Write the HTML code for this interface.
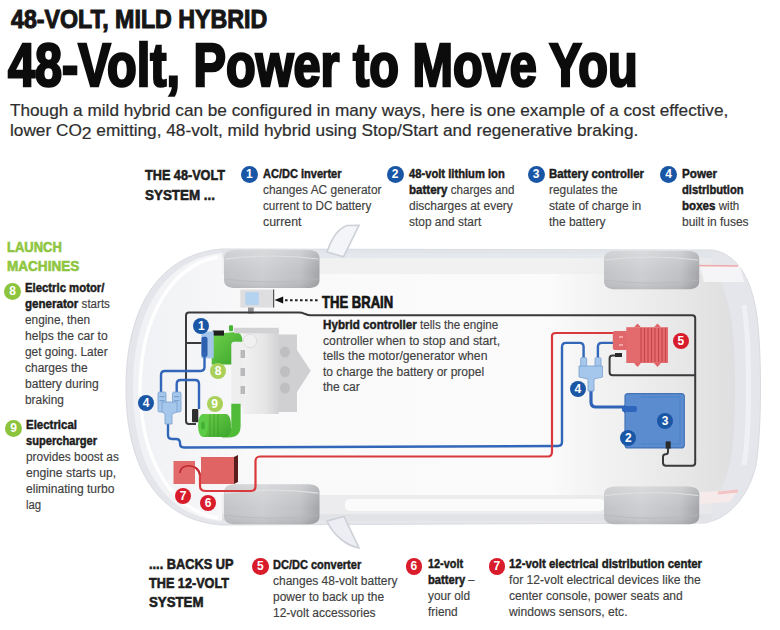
<!DOCTYPE html>
<html><head><meta charset="utf-8">
<style>
html,body{margin:0;padding:0;background:#fff;}
body{width:780px;height:630px;position:relative;overflow:hidden;font-family:"Liberation Sans",sans-serif;}
.a{position:absolute;white-space:nowrap;line-height:1;transform-origin:0 0;}
.a b{color:#1c1c1c;}
.bd{position:absolute;border-radius:50%;color:#fff;font-weight:bold;font-size:12px;text-align:center;}
svg{position:absolute;left:0;top:0;}
</style></head>
<body>
<svg width="780" height="630">
<defs>
<linearGradient id="whl" x1="0" y1="0" x2="1" y2="0">
<stop offset="0" stop-color="#c2c3c6"/><stop offset="0.4" stop-color="#cdced1"/><stop offset="0.8" stop-color="#c0c1c4"/><stop offset="1" stop-color="#a2a4a7"/>
</linearGradient>
<linearGradient id="whlv" x1="0" y1="0" x2="0" y2="1">
<stop offset="0" stop-color="#ffffff" stop-opacity="0.25"/><stop offset="0.6" stop-color="#ffffff" stop-opacity="0"/><stop offset="1" stop-color="#000" stop-opacity="0.08"/>
</linearGradient>
<linearGradient id="bodyv" x1="0" y1="0" x2="0" y2="1">
<stop offset="0" stop-color="#e2e3e6"/><stop offset="0.07" stop-color="#eeeff1"/><stop offset="0.2" stop-color="#f6f6f7"/><stop offset="0.75" stop-color="#f4f4f5"/><stop offset="0.88" stop-color="#e9e9eb"/><stop offset="1" stop-color="#e3e4e7"/>
</linearGradient>
<linearGradient id="bodyh" x1="0" y1="0" x2="1" y2="0">
<stop offset="0" stop-color="#f0f1f4"/><stop offset="0.2" stop-color="#f9f9fa"/><stop offset="0.7" stop-color="#fbfbfb"/><stop offset="0.92" stop-color="#ececed"/><stop offset="1" stop-color="#dedee0"/>
</linearGradient>
<linearGradient id="cabin" x1="0" y1="0" x2="1" y2="0">
<stop offset="0" stop-color="#f3f3f4" stop-opacity="0"/><stop offset="0.5" stop-color="#eeeeef"/><stop offset="1" stop-color="#e0e0e1"/>
</linearGradient>
<linearGradient id="eng" x1="0" y1="0" x2="1" y2="0">
<stop offset="0" stop-color="#f1f1f2"/><stop offset="0.6" stop-color="#e6e6e7"/><stop offset="1" stop-color="#d2d2d4"/>
</linearGradient>
<linearGradient id="grn" x1="0" y1="0" x2="1" y2="1">
<stop offset="0" stop-color="#6fd04a"/><stop offset="1" stop-color="#3aa42c"/>
</linearGradient>
</defs>
<!-- car body -->
<path d="M222,249 L712,250 C735,253 750,275 756,310 C762,345 762,430 756,465 C750,492 732,518 705,523 L222,525 C160,521 126,470 126,388 C126,306 160,254 222,249 Z" fill="#e4e6eb" stroke="#d9dbe0" stroke-width="1"/>
<path d="M222,253 L700,254 C712,262 727,285 732,325 C736,360 736,416 732,450 C727,488 712,508 700,516 L222,521 C166,517 133,468 133,388 C133,308 166,259 222,253 Z" fill="url(#bodyh)"/>
<path d="M222,250 L712,251 L712,258 L222,258 Z" fill="#e1e4ea" opacity="0.85"/>
<path d="M218,257 C170,266 141,318 140,388 C141,458 170,510 218,518" fill="none" stroke="#ffffff" stroke-width="3.5" opacity="0.9"/>
<path d="M744,305 C750,345 750,430 744,465" fill="none" stroke="#eef0f4" stroke-width="5"/>
<rect x="540" y="272" width="185" height="226" rx="30" fill="url(#cabin)" opacity="0.9"/>
<rect x="222" y="258" width="490" height="16" fill="#ebebec" opacity="0.6"/>
<rect x="222" y="495" width="490" height="27" fill="#e9e9eb" opacity="0.8"/>
<rect x="345" y="499" width="260" height="12" rx="5" fill="#fbfbfb"/>
<rect x="222" y="514" width="490" height="7" fill="#e2e3e6"/>
<!-- tail light hints -->
<path d="M700,266 L740,266 L744,282 L704,282 Z" fill="#f6f6f8" opacity="0.9"/>
<path d="M690,265.5 L738,266" stroke="#f0a8a8" stroke-width="1.5"/>
<path d="M700,492 L738,490 L730,502 L700,504 Z" fill="#f8eaea" opacity="0.9"/>
<path d="M718,493 L738,491" stroke="#f3c4c4" stroke-width="3"/>
<!-- mirrors -->
<path d="M327,252 C331,240 337,229 347,225.5 L359,225.3 L343.6,256.7 Z" fill="#f4f5f9" stroke="#cdd0d7" stroke-width="1.6"/>
<path d="M327,521 L344,516.5 L359,548 C348,546 334,537 327,521 Z" fill="#eceef3" stroke="#cdd0d7" stroke-width="1.6"/>
<!-- wheels -->
<path d="M224,258 Q224,250 236,250 L307.5,250 Q319.5,250 319.5,258 L319.5,280 Q319.5,288 307.5,288 L236,288 Q224,288 224,280 Z" fill="url(#whl)"/>
<path d="M224,258 Q224,250 236,250 L307.5,250 Q319.5,250 319.5,258 L319.5,280 Q319.5,288 307.5,288 L236,288 Q224,288 224,280 Z" fill="url(#whlv)"/>
<path d="M225,259 Q271.75,253 318.5,259" fill="none" stroke="#dedfe1" stroke-width="1.2"/>
<path d="M225,279 Q271.75,285 318.5,279" fill="none" stroke="#b4b6b9" stroke-width="1" opacity="0.7"/>
<path d="M224,492.2 Q224,484.2 236,484.2 L307.5,484.2 Q319.5,484.2 319.5,492.2 L319.5,516.2 Q319.5,524.2 307.5,524.2 L236,524.2 Q224,524.2 224,516.2 Z" fill="url(#whl)"/>
<path d="M224,492.2 Q224,484.2 236,484.2 L307.5,484.2 Q319.5,484.2 319.5,492.2 L319.5,516.2 Q319.5,524.2 307.5,524.2 L236,524.2 Q224,524.2 224,516.2 Z" fill="url(#whlv)"/>
<path d="M225,493.2 Q271.75,487.2 318.5,493.2" fill="none" stroke="#dedfe1" stroke-width="1.2"/>
<path d="M225,515.2 Q271.75,521.2 318.5,515.2" fill="none" stroke="#b4b6b9" stroke-width="1" opacity="0.7"/>
<path d="M604,259 Q604,251 616,251 L687.2,251 Q699.2,251 699.2,259 L699.2,281.2 Q699.2,289.2 687.2,289.2 L616,289.2 Q604,289.2 604,281.2 Z" fill="url(#whl)"/>
<path d="M604,259 Q604,251 616,251 L687.2,251 Q699.2,251 699.2,259 L699.2,281.2 Q699.2,289.2 687.2,289.2 L616,289.2 Q604,289.2 604,281.2 Z" fill="url(#whlv)"/>
<path d="M605,260 Q651.6,254 698.2,260" fill="none" stroke="#dedfe1" stroke-width="1.2"/>
<path d="M605,280.2 Q651.6,286.2 698.2,280.2" fill="none" stroke="#b4b6b9" stroke-width="1" opacity="0.7"/>
<path d="M604,494.5 Q604,486.5 616,486.5 L687.2,486.5 Q699.2,486.5 699.2,494.5 L699.2,516.2 Q699.2,524.2 687.2,524.2 L616,524.2 Q604,524.2 604,516.2 Z" fill="url(#whl)"/>
<path d="M604,494.5 Q604,486.5 616,486.5 L687.2,486.5 Q699.2,486.5 699.2,494.5 L699.2,516.2 Q699.2,524.2 687.2,524.2 L616,524.2 Q604,524.2 604,516.2 Z" fill="url(#whlv)"/>
<path d="M605,495.5 Q651.6,489.5 698.2,495.5" fill="none" stroke="#dedfe1" stroke-width="1.2"/>
<path d="M605,515.2 Q651.6,521.2 698.2,515.2" fill="none" stroke="#b4b6b9" stroke-width="1" opacity="0.7"/>
<!-- brain -->
<rect x="240.3" y="289.6" width="33.9" height="18" fill="#dedee0"/>
<rect x="245.4" y="292.2" width="13.4" height="12.8" fill="#b3d3f1"/>
<line x1="273.6" y1="289.6" x2="273.6" y2="307.6" stroke="#555" stroke-width="1.2"/>
<rect x="248" y="307.6" width="5.7" height="6" fill="#8f9092"/>
<path d="M274.5,300 L283.2,296.5 L283.2,303.5 Z" fill="#111"/>
<line x1="285" y1="300.3" x2="320" y2="300.3" stroke="#222" stroke-width="2" stroke-dasharray="2.6,2.4"/>
<!-- dark wires -->
<g fill="none" stroke="#3a3a3c" stroke-width="2" stroke-linejoin="round">
<path d="M196,424 L189.0,424.0 Q186,424 186.0,421.0 L186.0,315.5 Q186,312.5 189.0,312.5 L299.0,312.5 Q302,312.5 304.7,313.8 L305.3,314.0 Q308,315.3 311.0,315.3 L692.2,315.3 Q695.2,315.3 695.2,318.3 L695.2,462.7 Q695.2,465.7 692.2,465.7 L666.0,465.7 Q663,465.7 663.0,462.7 L663.0,456.8 Q663,454.3 665.5,454.3 L665.5,454.3 Q668,454.3 668.0,451.8 L668,448"/>
<path d="M186,343 L204,343"/>
<path d="M695.2,375.3 L612.6,375.3 Q609.6,375.3 609.6,372.3 L609.6,358.4 Q609.6,355.4 612.6,355.4 L616,355.4"/>
</g>
<!-- green motor 8 -->
<path d="M211.7,334 L236,332 C241,333 242.6,337 242.6,342 L242.6,358 C242.6,362 240,364.5 236,364.5 L211.7,364.5 Z" fill="url(#grn)"/>
<rect x="212.7" y="330.5" width="11.3" height="5.1" fill="#1f1f1f"/>
<rect x="229" y="325.3" width="4" height="6" rx="1" fill="#46b534"/>
<!-- engine -->
<path d="M278,334.5 L297,334.5 L297,350 L310.7,370.7 L297,392 L297,412 L278,412 Z" fill="#d0d0d2"/>
<ellipse cx="285" cy="352" rx="5" ry="5.5" fill="#bfbfc1"/><ellipse cx="285" cy="371.5" rx="5" ry="5.5" fill="#bfbfc1"/><ellipse cx="285" cy="388" rx="5" ry="5.5" fill="#bfbfc1"/>
<rect x="242.6" y="330" width="36.1" height="84" fill="url(#eng)"/>
<rect x="234" y="327.8" width="44.7" height="5.5" fill="#d2d2d4"/>
<circle cx="250" cy="341" r="6.8" fill="#f0f0f1" stroke="#d8d8da" stroke-width="0.8"/>
<path d="M231.3,345 C231.3,342 233,341.8 236,341.8 L244,341.8 L244,405.8 L231.3,405.8 Z" fill="#eeeeef"/>
<rect x="240.5" y="350" width="4.5" height="8" fill="#b9b9bb"/><rect x="240.5" y="368" width="4.5" height="8" fill="#b9b9bb"/><rect x="240.5" y="386" width="4.5" height="8" fill="#b9b9bb"/>
<!-- supercharger 9 -->
<path d="M231.3,403.7 L240.6,403.7 L240.6,426 C240.6,434 236,437.5 229,437.5 L222,437.5 L222,428 L231.3,428 Z" fill="#4fbb39"/>
<path d="M203,414 L226,414 C229,414 231,419 231,425.5 C231,432 229,437 226,437 L203,437 Z" fill="url(#grn)"/>
<g stroke="#37992a" stroke-width="1" opacity="0.7"><line x1="210" y1="414.5" x2="210" y2="436.5"/><line x1="214" y1="414.5" x2="214" y2="436.5"/><line x1="218" y1="414.5" x2="218" y2="436.5"/></g>
<ellipse cx="203" cy="425.5" rx="5" ry="11.5" fill="#5ccb45"/>
<ellipse cx="203" cy="425.5" rx="2" ry="4" fill="#46b036"/>
<rect x="192" y="408.9" width="6.3" height="13.4" rx="1" fill="#2e2e2e"/>
<!-- inverter 1 -->
<rect x="201.3" y="331.5" width="12.4" height="26.8" fill="#a3c5ea"/>
<rect x="201.5" y="336.7" width="6" height="20.3" rx="2" fill="#2c5fae"/>
<!-- blue wires -->
<g fill="none" stroke="#3266b8" stroke-width="2.4" stroke-linejoin="round">
<path d="M204.5,352 L204.5,367.0 Q204.5,371 200.5,371.0 L165.0,371.0 Q161,371 161.0,375.0 L161,394"/>
<path d="M176.7,394 L176.7,384.0 Q176.7,380 180.7,380.0 L195.0,380.0 Q199,380 199.0,384.0 L199,409"/>
<path d="M168,424 L168.0,435.0 Q168,439 172.0,439.0 L176.0,439.0 Q180,439 180.0,443.0 L180.0,443.5 Q180,447.5 184.0,447.5 L558.0,446.0 Q562,446 562.0,442.0 L562.0,346.9 Q562,342.9 566.0,342.9 L579.6,342.9 Q583.6,342.9 583.6,346.9 L583.6,358"/>
<path d="M597.9,358 L597.9,346.9 Q597.9,342.9 601.9,342.9 L614,342.9"/>
<path d="M591,390 L591.0,402.0 Q591,407 596.0,407.0 L624,407" stroke-width="3.2" stroke="#2f63b8"/>
</g>
<!-- connectors 4 -->
<g fill="#a6c7ec" stroke="#7aa0cf" stroke-width="0.8">
<rect x="158" y="392" width="8" height="20" rx="1.5"/>
<rect x="172.5" y="392" width="8.5" height="20" rx="1.5"/>
<path d="M162,402 L177,402 L177,412 L172,414 L172,424 L165,424 L165,414 L162,412 Z"/>
</g>
<g fill="#7aa0cf"><rect x="159.5" y="396" width="5" height="1.2"/><rect x="159.5" y="400" width="5" height="1.2"/><rect x="174" y="396" width="5" height="1.2"/><rect x="174" y="400" width="5" height="1.2"/></g>
<g fill="#a6c7ec" stroke="#7aa0cf" stroke-width="0.8">
<rect x="580.7" y="357.5" width="6" height="11" rx="1.5"/>
<rect x="595" y="357.5" width="6" height="11" rx="1.5"/>
<path d="M579,366 L602.5,366 L602.5,377 L594,379 L594,391 L588,391 L588,379 L579,377 Z"/>
</g>
<path d="M624,405 L634,405 C637,405 638,407 638,409 C638,411 637,413 634,413 L624,413 Z" fill="#2f66bd"/>
<!-- red wires -->
<g fill="none" stroke="#d9383d" stroke-width="2.2" stroke-linejoin="round">
<path d="M180,473 C180,463 198,463 200,475 L200,486 C200,490 203,491 206,491 L251,491 C254,491 255.5,489 255.5,486 L255.5,461 C255.5,459 257,456.5 260,456.5 L548,456.5 C551,456.5 552,454.5 552,451.5 L552,336 C552,334 553,333 556,333 L616,333"/>
</g>
<!-- box 7 and 6 -->
<rect x="173.5" y="461" width="21.5" height="23" fill="#e26a6a"/>
<rect x="201" y="457" width="33" height="27" fill="#e06464"/>
<path d="M234,457 L238,455 L238,482 L234,484 Z" fill="#5a1d1d"/>
<path d="M180,473 C180,463 198,463 200,475" fill="none" stroke="#c02a2f" stroke-width="1.6"/>
<!-- DC/DC converter 5 -->
<path d="M634,327.2 L637.5,323.5 L641,327.2 Z M654,327.2 L657.5,323.5 L661,327.2 Z M634,363 L637.5,367 L641,363 Z M654,363 L657.5,367 L661,363 Z" fill="#e06467"/>
<rect x="612.8" y="331" width="15" height="19" rx="2" fill="#e0676a"/>
<rect x="626.3" y="327.2" width="41.7" height="35.8" fill="#e36a6d"/>
<g stroke="#c8434a" stroke-width="1.1"><line x1="641" y1="328" x2="641" y2="362"/><line x1="644.5" y1="328" x2="644.5" y2="362"/><line x1="648" y1="328" x2="648" y2="362"/><line x1="651.5" y1="328" x2="651.5" y2="362"/><line x1="655" y1="328" x2="655" y2="362"/><line x1="658.5" y1="328" x2="658.5" y2="362"/><line x1="662" y1="328" x2="662" y2="362"/><line x1="665.5" y1="328" x2="665.5" y2="362"/></g>
<g fill="#f3a5a6"><rect x="619" y="336" width="4" height="2"/><rect x="619" y="344" width="4" height="2"/></g>
<rect x="615" y="353" width="7" height="4" fill="#2a2a2a"/>
<!-- battery -->
<rect x="625" y="393.6" width="59.3" height="54.3" rx="3" fill="#5b8ccf" stroke="#4473b6" stroke-width="1.2"/>
<path d="M641,397 L680,397 L680,444 L641,444" fill="none" stroke="#4d82c8" stroke-width="1"/>
<rect x="622" y="406" width="15" height="6" rx="2" fill="#2f66bd"/>
<rect x="665.7" y="441.4" width="5" height="7.2" fill="#2a2a2a"/>
</svg>
<div class="a" style="left:11.0px;top:6.96px;font-size:25.2px;font-weight:bold;color:#161616;-webkit-text-stroke:1.0px #161616;transform:scaleX(0.9219)">48-VOLT, MILD HYBRID</div>
<div class="a" style="left:8.0px;top:35.09px;font-size:60.6px;font-weight:bold;color:#0c0c0c;-webkit-text-stroke:2.6px #0c0c0c;transform:scaleX(0.8026)">48-Volt, Power to Move You</div>
<div class="a" style="left:9.7px;top:101.88px;font-size:16.2px;font-weight:normal;color:#2e2e2e;-webkit-text-stroke:0.2px #2e2e2e;transform:scaleX(1.0620)">Though a mild hybrid can be configured in many ways, here is one example of a cost effective,</div>
<div class="a" style="left:9.7px;top:121.88px;font-size:16.2px;font-weight:normal;color:#2e2e2e;-webkit-text-stroke:0.2px #2e2e2e;transform:scaleX(1.0641)">lower CO<span style="font-size:1.02em;position:relative;top:0.2em">2</span> emitting, 48-volt, mild hybrid using Stop/Start and regenerative braking.</div>
<div class="a" style="left:145.4px;top:167.43px;font-size:15.2px;font-weight:bold;color:#1e1e1e;-webkit-text-stroke:0.6px #1e1e1e;transform:scaleX(0.8340)">THE 48-VOLT</div>
<div class="a" style="left:145.4px;top:187.13px;font-size:15.2px;font-weight:bold;color:#1e1e1e;-webkit-text-stroke:0.6px #1e1e1e;transform:scaleX(0.8824)">SYSTEM ...</div>
<div class="a" style="left:7.1px;top:239.84px;font-size:14.6px;font-weight:bold;color:#8fc640;-webkit-text-stroke:0.6px #8fc640;transform:scaleX(0.8892)">LAUNCH</div>
<div class="a" style="left:7.1px;top:259.24px;font-size:14.6px;font-weight:bold;color:#8fc640;-webkit-text-stroke:0.6px #8fc640;transform:scaleX(0.9288)">MACHINES</div>
<div class="a" style="left:148.5px;top:557.34px;font-size:14.6px;font-weight:bold;color:#1e1e1e;-webkit-text-stroke:0.6px #1e1e1e;transform:scaleX(0.8756)">.... BACKS UP</div>
<div class="a" style="left:148.5px;top:576.34px;font-size:14.6px;font-weight:bold;color:#1e1e1e;-webkit-text-stroke:0.6px #1e1e1e;transform:scaleX(0.8679)">THE 12-VOLT</div>
<div class="a" style="left:148.5px;top:595.34px;font-size:14.6px;font-weight:bold;color:#1e1e1e;-webkit-text-stroke:0.6px #1e1e1e;transform:scaleX(0.9081)">SYSTEM</div>
<div class="a" style="left:322.2px;top:294.28px;font-size:16.2px;font-weight:bold;color:#151515;-webkit-text-stroke:0.7px #151515;transform:scaleX(0.8078)">THE BRAIN</div>
<div class="a" style="left:263.0px;top:167.82px;font-size:12.5px;font-weight:normal;color:#404040;-webkit-text-stroke:0.15px #404040;transform:scaleX(0.8828)"><b style="-webkit-text-stroke:0.45px #1c1c1c">AC/DC inverter</b></div>
<div class="a" style="left:263.0px;top:183.82px;font-size:12.5px;font-weight:normal;color:#404040;-webkit-text-stroke:0.15px #404040;transform:scaleX(0.9526)">changes AC generator</div>
<div class="a" style="left:263.0px;top:199.82px;font-size:12.5px;font-weight:normal;color:#404040;-webkit-text-stroke:0.15px #404040;transform:scaleX(0.9335)">current to DC battery</div>
<div class="a" style="left:263.0px;top:215.82px;font-size:12.5px;font-weight:normal;color:#404040;-webkit-text-stroke:0.15px #404040;transform:scaleX(0.9896)">current</div>
<div class="a" style="left:409.2px;top:167.82px;font-size:12.5px;font-weight:normal;color:#404040;-webkit-text-stroke:0.15px #404040;transform:scaleX(0.8957)"><b style="-webkit-text-stroke:0.45px #1c1c1c">48-volt lithium ion</b></div>
<div class="a" style="left:409.2px;top:183.82px;font-size:12.5px;font-weight:normal;color:#404040;-webkit-text-stroke:0.15px #404040;transform:scaleX(0.9248)"><b style="-webkit-text-stroke:0.45px #1c1c1c">battery</b> charges and</div>
<div class="a" style="left:409.2px;top:199.82px;font-size:12.5px;font-weight:normal;color:#404040;-webkit-text-stroke:0.15px #404040;transform:scaleX(0.9576)">discharges at every</div>
<div class="a" style="left:409.2px;top:215.82px;font-size:12.5px;font-weight:normal;color:#404040;-webkit-text-stroke:0.15px #404040;transform:scaleX(0.9531)">stop and start</div>
<div class="a" style="left:548.6px;top:167.82px;font-size:12.5px;font-weight:normal;color:#404040;-webkit-text-stroke:0.15px #404040;transform:scaleX(0.9117)"><b style="-webkit-text-stroke:0.45px #1c1c1c">Battery controller</b></div>
<div class="a" style="left:548.6px;top:183.82px;font-size:12.5px;font-weight:normal;color:#404040;-webkit-text-stroke:0.15px #404040;transform:scaleX(0.9505)">regulates the</div>
<div class="a" style="left:548.6px;top:199.82px;font-size:12.5px;font-weight:normal;color:#404040;-webkit-text-stroke:0.15px #404040;transform:scaleX(0.9624)">state of charge in</div>
<div class="a" style="left:548.6px;top:215.82px;font-size:12.5px;font-weight:normal;color:#404040;-webkit-text-stroke:0.15px #404040;transform:scaleX(0.9547)">the battery</div>
<div class="a" style="left:681.7px;top:167.82px;font-size:12.5px;font-weight:normal;color:#404040;-webkit-text-stroke:0.15px #404040;transform:scaleX(0.9329)"><b style="-webkit-text-stroke:0.45px #1c1c1c">Power</b></div>
<div class="a" style="left:681.7px;top:183.82px;font-size:12.5px;font-weight:normal;color:#404040;-webkit-text-stroke:0.15px #404040;transform:scaleX(0.8960)"><b style="-webkit-text-stroke:0.45px #1c1c1c">distribution</b></div>
<div class="a" style="left:681.7px;top:199.82px;font-size:12.5px;font-weight:normal;color:#404040;-webkit-text-stroke:0.15px #404040;transform:scaleX(0.9265)"><b style="-webkit-text-stroke:0.45px #1c1c1c">boxes</b> with</div>
<div class="a" style="left:681.7px;top:215.82px;font-size:12.5px;font-weight:normal;color:#404040;-webkit-text-stroke:0.15px #404040;transform:scaleX(0.9585)">built in fuses</div>
<div class="a" style="left:25.4px;top:282.32px;font-size:12.5px;font-weight:normal;color:#404040;-webkit-text-stroke:0.15px #404040;transform:scaleX(0.9071)"><b style="-webkit-text-stroke:0.45px #1c1c1c">Electric motor/</b></div>
<div class="a" style="left:25.4px;top:298.32px;font-size:12.5px;font-weight:normal;color:#404040;-webkit-text-stroke:0.15px #404040;transform:scaleX(0.9258)"><b style="-webkit-text-stroke:0.45px #1c1c1c">generator</b> starts</div>
<div class="a" style="left:25.4px;top:314.32px;font-size:12.5px;font-weight:normal;color:#404040;-webkit-text-stroke:0.15px #404040;transform:scaleX(0.9460)">engine, then</div>
<div class="a" style="left:25.4px;top:330.32px;font-size:12.5px;font-weight:normal;color:#404040;-webkit-text-stroke:0.15px #404040;transform:scaleX(0.9664)">helps the car to</div>
<div class="a" style="left:25.4px;top:346.32px;font-size:12.5px;font-weight:normal;color:#404040;-webkit-text-stroke:0.15px #404040;transform:scaleX(0.9508)">get going. Later</div>
<div class="a" style="left:25.4px;top:362.32px;font-size:12.5px;font-weight:normal;color:#404040;-webkit-text-stroke:0.15px #404040;transform:scaleX(0.9582)">charges the</div>
<div class="a" style="left:25.4px;top:378.32px;font-size:12.5px;font-weight:normal;color:#404040;-webkit-text-stroke:0.15px #404040;transform:scaleX(0.9655)">battery during</div>
<div class="a" style="left:25.4px;top:394.32px;font-size:12.5px;font-weight:normal;color:#404040;-webkit-text-stroke:0.15px #404040;transform:scaleX(0.9488)">braking</div>
<div class="a" style="left:25.8px;top:419.42px;font-size:12.5px;font-weight:normal;color:#404040;-webkit-text-stroke:0.15px #404040;transform:scaleX(0.9174)"><b style="-webkit-text-stroke:0.45px #1c1c1c">Electrical</b></div>
<div class="a" style="left:25.8px;top:435.42px;font-size:12.5px;font-weight:normal;color:#404040;-webkit-text-stroke:0.15px #404040;transform:scaleX(0.8898)"><b style="-webkit-text-stroke:0.45px #1c1c1c">supercharger</b></div>
<div class="a" style="left:25.8px;top:451.42px;font-size:12.5px;font-weight:normal;color:#404040;-webkit-text-stroke:0.15px #404040;transform:scaleX(0.9481)">provides boost as</div>
<div class="a" style="left:25.8px;top:467.42px;font-size:12.5px;font-weight:normal;color:#404040;-webkit-text-stroke:0.15px #404040;transform:scaleX(0.9760)">engine starts up,</div>
<div class="a" style="left:25.8px;top:483.42px;font-size:12.5px;font-weight:normal;color:#404040;-webkit-text-stroke:0.15px #404040;transform:scaleX(0.9649)">eliminating turbo</div>
<div class="a" style="left:25.8px;top:499.42px;font-size:12.5px;font-weight:normal;color:#404040;-webkit-text-stroke:0.15px #404040;transform:scaleX(0.9109)">lag</div>
<div class="a" style="left:322.9px;top:319.32px;font-size:12.5px;font-weight:normal;color:#404040;-webkit-text-stroke:0.15px #404040;transform:scaleX(0.9311)"><b style="-webkit-text-stroke:0.45px #1c1c1c">Hybrid controller</b> tells the engine</div>
<div class="a" style="left:322.9px;top:334.72px;font-size:12.5px;font-weight:normal;color:#404040;-webkit-text-stroke:0.15px #404040;transform:scaleX(0.9765)">controller when to stop and start,</div>
<div class="a" style="left:322.9px;top:350.12px;font-size:12.5px;font-weight:normal;color:#404040;-webkit-text-stroke:0.15px #404040;transform:scaleX(0.9737)">tells the motor/generator when</div>
<div class="a" style="left:322.9px;top:365.52px;font-size:12.5px;font-weight:normal;color:#404040;-webkit-text-stroke:0.15px #404040;transform:scaleX(0.9620)">to charge the battery or propel</div>
<div class="a" style="left:322.9px;top:380.92px;font-size:12.5px;font-weight:normal;color:#404040;-webkit-text-stroke:0.15px #404040;transform:scaleX(0.9629)">the car</div>
<div class="a" style="left:273.3px;top:558.72px;font-size:12.5px;font-weight:normal;color:#404040;-webkit-text-stroke:0.15px #404040;transform:scaleX(0.8817)"><b style="-webkit-text-stroke:0.45px #1c1c1c">DC/DC converter</b></div>
<div class="a" style="left:273.3px;top:574.72px;font-size:12.5px;font-weight:normal;color:#404040;-webkit-text-stroke:0.15px #404040;transform:scaleX(0.9580)">changes 48-volt battery</div>
<div class="a" style="left:273.3px;top:590.72px;font-size:12.5px;font-weight:normal;color:#404040;-webkit-text-stroke:0.15px #404040;transform:scaleX(0.9582)">power to back up the</div>
<div class="a" style="left:273.3px;top:606.72px;font-size:12.5px;font-weight:normal;color:#404040;-webkit-text-stroke:0.15px #404040;transform:scaleX(0.9589)">12-volt accessories</div>
<div class="a" style="left:427.6px;top:558.02px;font-size:12.5px;font-weight:normal;color:#404040;-webkit-text-stroke:0.15px #404040;transform:scaleX(0.8710)"><b style="-webkit-text-stroke:0.45px #1c1c1c">12-volt</b></div>
<div class="a" style="left:427.6px;top:574.02px;font-size:12.5px;font-weight:normal;color:#404040;-webkit-text-stroke:0.15px #404040;transform:scaleX(0.8940)"><b style="-webkit-text-stroke:0.45px #1c1c1c">battery</b> –</div>
<div class="a" style="left:427.6px;top:590.02px;font-size:12.5px;font-weight:normal;color:#404040;-webkit-text-stroke:0.15px #404040;transform:scaleX(0.9442)">your old</div>
<div class="a" style="left:427.6px;top:606.02px;font-size:12.5px;font-weight:normal;color:#404040;-webkit-text-stroke:0.15px #404040;transform:scaleX(0.9495)">friend</div>
<div class="a" style="left:509.2px;top:558.02px;font-size:12.5px;font-weight:normal;color:#404040;-webkit-text-stroke:0.15px #404040;transform:scaleX(0.9139)"><b style="-webkit-text-stroke:0.45px #1c1c1c">12-volt electrical distribution center</b></div>
<div class="a" style="left:509.2px;top:574.02px;font-size:12.5px;font-weight:normal;color:#404040;-webkit-text-stroke:0.15px #404040;transform:scaleX(0.9721)">for 12-volt electrical devices like the</div>
<div class="a" style="left:509.2px;top:590.02px;font-size:12.5px;font-weight:normal;color:#404040;-webkit-text-stroke:0.15px #404040;transform:scaleX(0.9657)">center console, power seats and</div>
<div class="a" style="left:509.2px;top:606.02px;font-size:12.5px;font-weight:normal;color:#404040;-webkit-text-stroke:0.15px #404040;transform:scaleX(0.9691)">windows sensors, etc.</div>
<div class="bd" style="left:240.8px;top:166.0px;width:17px;height:17px;line-height:17px;background:#1a56a6">1</div>
<div class="bd" style="left:386.7px;top:166.3px;width:17px;height:17px;line-height:17px;background:#1a56a6">2</div>
<div class="bd" style="left:527.5px;top:166.3px;width:17px;height:17px;line-height:17px;background:#1a56a6">3</div>
<div class="bd" style="left:660.2px;top:165.8px;width:17px;height:17px;line-height:17px;background:#1a56a6">4</div>
<div class="bd" style="left:4.2px;top:282.5px;width:17px;height:17px;line-height:17px;background:#8cc43e">8</div>
<div class="bd" style="left:5.1px;top:419.8px;width:17px;height:17px;line-height:17px;background:#8cc43e">9</div>
<div class="bd" style="left:252.1px;top:558.1px;width:16.5px;height:16.5px;line-height:16.5px;background:#d81c2b">5</div>
<div class="bd" style="left:405.6px;top:558.4px;width:16.5px;height:16.5px;line-height:16.5px;background:#d81c2b">6</div>
<div class="bd" style="left:488.6px;top:558.4px;width:16.5px;height:16.5px;line-height:16.5px;background:#d81c2b">7</div>
<div class="bd" style="left:193.4px;top:318.0px;width:16px;height:16px;line-height:16px;background:#1a56a6">1</div>
<div class="bd" style="left:210.0px;top:363.0px;width:16px;height:16px;line-height:16px;background:#a9d15a">8</div>
<div class="bd" style="left:206.5px;top:395.6px;width:16px;height:16px;line-height:16px;background:#a9d15a">9</div>
<div class="bd" style="left:138.0px;top:395.0px;width:16px;height:16px;line-height:16px;background:#1a56a6">4</div>
<div class="bd" style="left:175.0px;top:488.0px;width:16px;height:16px;line-height:16px;background:#d81c2b">7</div>
<div class="bd" style="left:200.0px;top:495.0px;width:16px;height:16px;line-height:16px;background:#d81c2b">6</div>
<div class="bd" style="left:569.9px;top:381.3px;width:16px;height:16px;line-height:16px;background:#1a56a6">4</div>
<div class="bd" style="left:672.8px;top:333.3px;width:16px;height:16px;line-height:16px;background:#d81c2b">5</div>
<div class="bd" style="left:657.0px;top:412.6px;width:16px;height:16px;line-height:16px;background:#1a56a6">3</div>
<div class="bd" style="left:620.4px;top:430.0px;width:16px;height:16px;line-height:16px;background:#1a56a6">2</div>
</body></html>
